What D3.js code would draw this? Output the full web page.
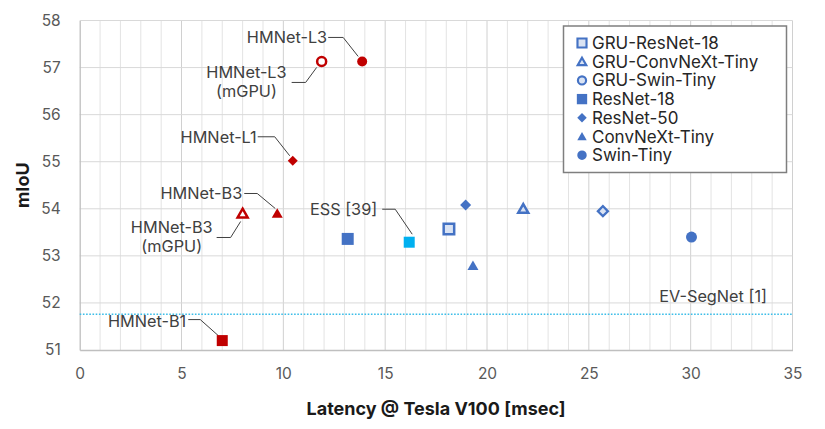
<!DOCTYPE html>
<html><head><meta charset="utf-8">
<script src="https://cdn.jsdelivr.net/npm/d3@7"></script>
<style>
html,body{margin:0;padding:0;background:#fff;}
text{font-family:Inter,"Noto Sans",sans-serif;}
</style></head>
<body><svg id="c" width="825" height="429"></svg>
<script>
// ---- data ----
const pointNames = ["HMNet-B1","HMNet-B3","HMNet-B3 (mGPU)","HMNet-L1","HMNet-L3","HMNet-L3 (mGPU)","ESS [39]",
  "ResNet-18","ResNet-50","ConvNeXt-Tiny","Swin-Tiny","GRU-ResNet-18","GRU-ConvNeXt-Tiny","GRU-ResNet-50"];
const latency = [7.0, 9.7, 8.0, 10.46, 13.87, 11.88, 16.18, 13.16, 18.95, 19.31, 30.04, 18.13, 21.78, 25.69];
const miou    = [51.2, 53.9, 53.9, 55.02, 57.13, 57.13, 53.29, 53.36, 54.08, 52.79, 53.40, 53.57, 54.0, 53.95];
const legendNames = ["GRU-ResNet-18","GRU-ConvNeXt-Tiny","GRU-Swin-Tiny","ResNet-18","ResNet-50","ConvNeXt-Tiny","Swin-Tiny"];
const baselineName = "EV-SegNet [1]";
const baselineValue = 51.76;
const xTicks = [0,5,10,15,20,25,30,35];
const yTicks = [51,52,53,54,55,56,57,58];
const xTitle = "Latency @ Tesla V100 [msec]";
const yTitle = "mIoU";

// ---- styles ----
const BLUE="#4472c4", LIGHT="#dae3f3", RED="#c00000", CYAN="#00b0f0";
const styles = {
  "HMNet-B1":{t:"square",fill:RED,stroke:"none",w:11},
  "HMNet-B3":{t:"triangle",fill:RED,stroke:"none",w:11},
  "HMNet-B3 (mGPU)":{t:"triangle",fill:"#fff",stroke:RED,w:10,sw:2.5},
  "HMNet-L1":{t:"diamond",fill:RED,stroke:"none",w:10},
  "HMNet-L3":{t:"circle",fill:RED,stroke:"none",w:10},
  "HMNet-L3 (mGPU)":{t:"circle",fill:"#fff",stroke:RED,w:9,sw:2.5},
  "ESS [39]":{t:"square",fill:CYAN,stroke:"none",w:11},
  "ResNet-18":{t:"square",fill:BLUE,stroke:"none",w:12},
  "ResNet-50":{t:"diamond",fill:BLUE,stroke:"none",w:11},
  "ConvNeXt-Tiny":{t:"triangle",fill:BLUE,stroke:"none",w:11},
  "Swin-Tiny":{t:"circle",fill:BLUE,stroke:"none",w:11},
  "GRU-ResNet-18":{t:"square",fill:LIGHT,stroke:BLUE,w:10.5,sw:2.5},
  "GRU-ConvNeXt-Tiny":{t:"triangle",fill:LIGHT,stroke:BLUE,w:10,sw:2.5},
  "GRU-ResNet-50":{t:"diamond",fill:LIGHT,stroke:BLUE,w:10,sw:2.3},
  "GRU-Swin-Tiny":{t:"circle",fill:LIGHT,stroke:BLUE,w:9.5,sw:2.5}
};
// label layout offsets (pixels relative to the marker)
const labelLayout = {
  "HMNet-L3":{tx:-35,ty:-24,sx:-34,ex:-19,ey:-24,px:-4,py:-5},
  "HMNet-L3 (mGPU)":{tx:-35,ty:11,ty2:30,sx:-30,sy:21,ex:-16,ey:21,px:-5,py:6},
  "HMNet-L1":{tx:-36,ty:-24,sx:-35,ex:-18,ey:-24,px:-3,py:-5},
  "HMNet-B3":{tx:-35,ty:-20,sx:-33,ex:-20,ey:-20,px:-2,py:-5},
  "HMNet-B3 (mGPU)":{tx:-30,ty:14,ty2:33,sx:-26,sy:24,ex:-12,ey:24,px:-2,py:8},
  "ESS [39]":{tx:-32,ty:-33,sx:-27,ex:-14,ey:-33,px:3,py:-8},
  "HMNet-B1":{tx:-36,ty:-20,sx:-34,ex:-22,ey:-21,px:-4,py:-5}
};
const LABEL_FS = "16.3px";

const svg = d3.select("#c");
svg.append("rect").attr("width",825).attr("height",429).attr("fill","#fff");
const m = {l:79.7, r:792.5, t:20.5, b:350};
const x = d3.scaleLinear().domain([0,35]).range([m.l,m.r]);
const y = d3.scaleLinear().domain([51,58]).range([m.b,m.t]);

// grid
const g = svg.append("g");
g.selectAll(".vg").data(d3.range(1,36)).join("line")
  .attr("x1",d=>x(d)).attr("x2",d=>x(d)).attr("y1",m.t).attr("y2",m.b)
  .attr("stroke",d=>d%5===0?"#d0d0d0":"#e3e3e3").attr("stroke-width",1);
g.selectAll(".hg").data(yTicks.slice(1)).join("line")
  .attr("x1",m.l).attr("x2",m.r).attr("y1",d=>y(d)).attr("y2",d=>y(d))
  .attr("stroke","#d9d9d9").attr("stroke-width",1);

// axes
const xa = svg.append("g").attr("transform",`translate(0,${m.b})`)
  .call(d3.axisBottom(x).tickValues(xTicks).tickFormat(d3.format("d")).tickSize(0).tickPadding(18));
const ya = svg.append("g").attr("transform",`translate(${m.l},0)`)
  .call(d3.axisLeft(y).tickValues(yTicks).tickFormat(d3.format("d")).tickSize(0).tickPadding(19));
[xa,ya].forEach(a=>{
  a.select(".domain").attr("stroke","#bfbfbf").attr("stroke-width",1.3);
  a.selectAll("text").attr("fill","#595959").style("font-size","15.5px")
   .style("font-family","Inter,sans-serif");
});

// baseline
svg.append("line").attr("x1",m.l).attr("x2",m.r)
  .attr("y1",y(baselineValue)).attr("y2",y(baselineValue))
  .attr("stroke","#3bbde8").attr("stroke-width",1.6).attr("stroke-dasharray","1.6,1.6");
svg.append("text").attr("x",x(33.75)).attr("y",y(baselineValue)-18)
  .attr("text-anchor","end").attr("dominant-baseline","central")
  .attr("fill","#404040").style("font-size",LABEL_FS).text(baselineName);

function symPath(s){
  if(s.t==="square") return d3.symbol(d3.symbolSquare, s.w*s.w)();
  if(s.t==="circle") return d3.symbol(d3.symbolCircle, Math.PI*s.w*s.w/4)();
  if(s.t==="triangle") return d3.symbol(d3.symbolTriangle, Math.sqrt(3)/4*s.w*s.w)();
  if(s.t==="diamond") return d3.symbol(d3.symbolSquare, s.w*s.w/2)();
}
function drawSym(sel, s, cx, cy, scale){
  const p = sel.append("path").attr("d",symPath(Object.assign({},s,{w:s.w*(scale||1)})))
    .attr("fill",s.fill).attr("stroke",s.stroke).attr("stroke-width",(s.sw||0)*(scale||1))
    .attr("stroke-linejoin","miter");
  p.attr("transform",`translate(${cx},${cy})`+(s.t==="diamond"?" rotate(45)":"")+(s.t==="triangle"?" translate(0,1)":""));
  return p;
}

// leaders and labels
const lab = svg.append("g");
pointNames.forEach((n,i)=>{
  const L = labelLayout[n]; if(!L) return;
  const px = x(latency[i]), py = y(miou[i]);
  const sy = L.sy!==undefined?L.sy:L.ey;
  lab.append("polyline").attr("points",[[px+L.sx,py+sy],[px+L.ex,py+L.ey],[px+L.px,py+L.py]].map(p=>p.join(",")).join(" "))
    .attr("fill","none").attr("stroke","#404040").attr("stroke-width",1);
  const parts = n.split(" (");
  const two = parts.length>1 && L.ty2!==undefined;
  const t1 = lab.append("text").attr("x",px+L.tx).attr("y",py+L.ty)
    .attr("text-anchor","end").attr("dominant-baseline","central")
    .attr("fill","#404040").style("font-size",LABEL_FS).text(two?parts[0]:n);
  if(two){
    const w = t1.node().getComputedTextLength();
    lab.append("text").attr("x",px+L.tx-w/2).attr("y",py+L.ty2)
      .attr("text-anchor","middle").attr("dominant-baseline","central")
      .attr("fill","#404040").style("font-size",LABEL_FS).text("("+parts[1]);
  }
});

// points
const pts = svg.append("g");
pointNames.forEach((n,i)=>drawSym(pts, styles[n], x(latency[i]), y(miou[i])));

// legend
const lg = svg.append("g");
lg.append("rect").attr("x",563.5).attr("y",26).attr("width",223).attr("height",146.5)
  .attr("fill","#fff").attr("stroke","#7f7f7f").attr("stroke-width",1.5);
legendNames.forEach((n,i)=>{
  const cy = 43 + i*18.7;
  drawSym(lg, styles[n], 582, cy, 0.86);
  lg.append("text").attr("x",592).attr("y",cy).attr("dominant-baseline","central")
    .attr("fill","#262626").style("font-size","17px").text(n);
});

// titles
svg.append("text").attr("x",(m.l+m.r)/2).attr("y",408).attr("text-anchor","middle")
  .attr("dominant-baseline","central").style("font-size","18px").style("font-weight","bold")
  .attr("fill","#1a1a1a").text(xTitle);
svg.append("text").attr("transform",`translate(22,${(m.t+m.b)/2}) rotate(-90)`).attr("text-anchor","middle")
  .attr("dominant-baseline","central").style("font-size","18px").style("font-weight","bold")
  .attr("fill","#1a1a1a").text(yTitle);
</script></body></html>
